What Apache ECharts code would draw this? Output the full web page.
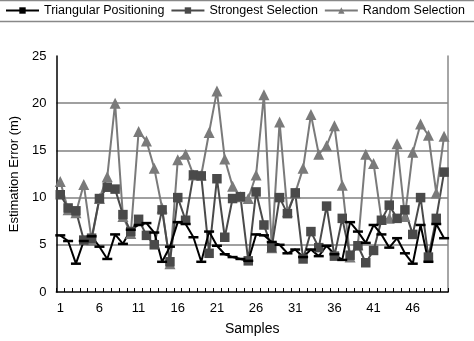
<!DOCTYPE html>
<html><head><meta charset="utf-8">
<script src="https://cdn.jsdelivr.net/npm/echarts@6/dist/echarts.min.js"></script>
<style>html,body{margin:0;padding:0;background:#fff}#c{width:474px;height:341px}</style>
</head><body><div id="c"></div>
<script>
var samples = [];
for (var i = 1; i <= 50; i++) samples.push(String(i));
var triangular = [6.0,5.4,3.0,5.4,5.9,4.8,3.5,6.1,5.1,6.6,7.1,7.3,6.3,3.2,4.8,7.4,7.2,5.8,3.2,6.4,4.9,4.0,3.7,3.5,3.3,6.1,6.0,5.3,5.0,4.1,4.5,3.7,4.5,3.8,4.9,4.0,3.4,7.4,6.4,5.2,7.1,6.1,4.7,5.7,4.1,3.0,7.1,3.2,7.2,5.7];
var strongest = [10.3,8.9,8.6,5.5,5.7,9.9,11.1,10.9,8.2,6.4,7.7,6.0,5.0,8.7,3.2,10.0,7.6,12.4,12.3,4.1,12.0,5.8,9.9,10.1,3.3,10.6,7.1,4.7,10.0,8.3,10.5,3.5,6.4,4.7,9.1,3.8,7.8,3.9,4.9,3.1,4.4,7.6,9.2,7.8,8.7,6.1,10.0,3.7,7.8,12.7];
var randomSel = [11.7,8.7,8.4,11.4,5.5,9.9,12.2,20.0,8.0,6.2,17.0,16.0,13.1,8.9,3.0,14.0,14.6,12.4,12.4,16.9,21.3,14.1,11.2,10.1,9.9,12.4,20.9,4.7,18.0,8.5,10.5,13.1,18.8,14.6,15.5,17.6,11.3,3.7,5.0,14.6,13.6,7.7,7.8,15.7,8.0,14.8,17.8,16.6,10.5,16.5];
var yTicks = [0,5,10,15,20,25];

var chart = echarts.init(document.getElementById('c'), null, {renderer:'canvas'});
var font = 'Liberation Sans, Arial, sans-serif';
chart.setOption({
  animation: false,
  backgroundColor: '#fff',
  textStyle: {fontFamily: font},
  graphic: [
    {type:'line', shape:{x1:0,y1:0.5,x2:474,y2:0.5}, style:{stroke:'#888',lineWidth:1.5}},
    {type:'line', shape:{x1:0,y1:21.5,x2:474,y2:21.5}, style:{stroke:'#888',lineWidth:1.5}}
  ],
  legend: {
    data: ['Triangular Positioning','Strongest Selection','Random Selection'],
    left: 5, top: 4, padding: 0, itemGap: 6, itemWidth: 33, itemHeight: 8,
    textStyle: {fontFamily: font, fontSize: 12.5, color: '#000'}
  },
  grid: {left: 52, right: 26, top: 56, bottom: 46},
  xAxis: {
    type: 'category', data: samples, boundaryGap: true,
    name: 'Samples', nameLocation: 'middle', nameGap: 30,
    nameTextStyle: {fontFamily: font, fontSize: 14, color: '#000'},
    axisLine: {lineStyle: {color: '#000', width: 1.5}},
    axisTick: {show: true, inside: true, length: 4, interval: 0, lineStyle:{color:'#000'}},
    axisLabel: {interval: 4, fontFamily: font, fontSize: 13, color: '#000', margin: 10},
    splitLine: {show: false}
  },
  yAxis: [{
    type: 'value', min: yTicks[0], max: yTicks[yTicks.length-1], interval: 5,
    name: 'Estimation Error (m)', nameLocation: 'middle', nameGap: 34,
    nameTextStyle: {fontFamily: font, fontSize: 13, color: '#000'},
    axisLine: {show: true, lineStyle: {color: '#000', width: 1.5}},
    axisTick: {show: false},
    axisLabel: {fontFamily: font, fontSize: 13, color: '#000', margin: 10},
    splitLine: {show: true, showMinLine: false, showMaxLine: false, lineStyle: {color: '#808080', width: 1.5}}
  }, {
    type: 'value', position: 'right', min: 0, max: 25, interval: 5,
    axisLine: {show: true, lineStyle: {color: '#888', width: 1.5}},
    axisTick: {show: false}, axisLabel: {show: false}, splitLine: {show: false}
  }],
  series: [
    {name: 'Random Selection', type: 'line', data: randomSel, symbol: 'triangle', symbolSize: 11, showAllSymbol: true,
     lineStyle: {color: '#7a7a7a', width: 2}, itemStyle: {color: '#7a7a7a'}},
    {name: 'Strongest Selection', type: 'line', data: strongest, symbol: 'rect', symbolSize: 9.5, showAllSymbol: true,
     lineStyle: {color: '#4a4a4a', width: 2}, itemStyle: {color: '#4a4a4a'}},
    {name: 'Triangular Positioning', type: 'line', data: triangular, symbol: 'rect', symbolSize: [10, 2.5], showAllSymbol: true,
     lineStyle: {color: '#000', width: 2}, itemStyle: {color: '#000'}}
  ]
});
</script></body></html>
